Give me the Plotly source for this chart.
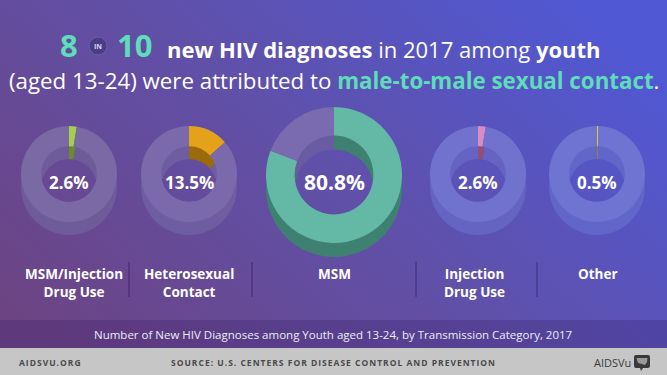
import base64
import plotly.graph_objects as go

# ---------------- data ----------------
categories = ["MSM/Injection<br>Drug Use", "Heterosexual<br>Contact", "MSM",
              "Injection<br>Drug Use", "Other"]
percentages = [2.6, 13.5, 80.8, 2.6, 0.5]
pct_labels = ["2.6%", "13.5%", "80.8%", "2.6%", "0.5%"]

# ---------------- style ----------------
W, H = 667, 375
top_colors = ["#a6cd4e", "#e4a11a", "#63b9a5", "#d98cc4", "#d8ca3c"]
wall_colors = ["#6a8a30", "#9b6a0c", "#3f8171", "#8f5078", "#908632"]
ring_top = ["#7b69a6", "#7a6aab", "#7a6bb0", "#7172cd", "#6f73d2"]
ring_wall = ["#6f5b9a", "#6e5da0", "#6a5ca3", "#6564c3", "#6266c8"]
centers_x = [69, 189, 334, 478, 597]
centers_y = [174, 174, 175, 174, 174]
radii = [48, 48, 68, 48, 48]
depth = [13, 13, 14, 13, 13]
label_x = [74, 189, 334, 474, 598]
sep_x = [129, 252, 416, 537]


def px(x):
    return x / W


def py(y):
    return 1 - y / H


def dom(cx, cy, r):
    return dict(x=[px(cx - r), px(cx + r)], y=[py(cy + r), py(cy - r)])


fig = go.Figure()

# shadow (extrusion) pies first
for i, p in enumerate(percentages):
    fig.add_trace(go.Pie(
        values=[p, 100 - p], sort=False, direction="clockwise", rotation=0,
        hole=0.58, textinfo="none", hoverinfo="skip", showlegend=False,
        marker=dict(colors=[wall_colors[i], ring_wall[i]], line=dict(width=0)),
        domain=dom(centers_x[i], centers_y[i] + depth[i], radii[i]),
    ))
# top faces
for i, p in enumerate(percentages):
    fig.add_trace(go.Pie(
        values=[p, 100 - p], labels=[categories[i].replace("<br>", " "), "Other categories"],
        sort=False, direction="clockwise", rotation=0,
        hole=0.58, textinfo="none", showlegend=False,
        marker=dict(colors=[top_colors[i], ring_top[i]], line=dict(width=0)),
        domain=dom(centers_x[i], centers_y[i], radii[i]),
    ))

ann = []
# percentages in holes
for i, t in enumerate(pct_labels):
    ann.append(dict(x=px(centers_x[i]), y=py(182), text=f"<b>{t}</b>",
                    font=dict(size=21 if i == 2 else 17, color="white", family="Open Sans")))
# category labels
for i, c in enumerate(categories):
    ann.append(dict(x=px(label_x[i]), y=py(263), yanchor="top", text=f"<b>{c}</b>",
                    font=dict(size=13.5, color="white", family="Open Sans")))

teal = "#5fdcb9"
# title line 1
ann.append(dict(x=px(69), y=py(44.5), text="<b>8</b>",
                font=dict(size=31, color=teal, family="Open Sans")))
ann.append(dict(x=px(98), y=py(46), text="<b>IN</b>", font=dict(size=7, color="#d8d4ee", family="Open Sans")))
ann.append(dict(x=px(134), y=py(44.5), text="<b>10</b>",
                font=dict(size=31, color=teal, family="Open Sans")))
ann.append(dict(x=px(165), y=py(49), xanchor="left",
                text="<b>new HIV diagnoses</b> in 2017 among <b>youth</b>",
                font=dict(size=22, color="white", family="Open Sans")))
# title line 2
ann.append(dict(x=px(334), y=py(80.5),
                text=f"(aged 13-24) were attributed to <b><span style='color:{teal}'>male-to-male sexual contact</span></b>.",
                font=dict(size=22.3, color="white", family="Open Sans")))
# caption
ann.append(dict(x=px(333), y=py(334),
                text="Number of New HIV Diagnoses among Youth aged 13-24, by Transmission Category, 2017",
                font=dict(size=11.5, color="#ecebf5", family="Open Sans")))
# footer
ann.append(dict(x=px(17), y=py(362), xanchor="left",
                text="<b><span style='letter-spacing:1px'>AIDSVU.ORG</span></b>",
                font=dict(size=8.5, color="#4a4a4a", family="Open Sans")))
ann.append(dict(x=px(333), y=py(362),
                text="<b><span style='letter-spacing:1px'>SOURCE: U.S. CENTERS FOR DISEASE CONTROL AND PREVENTION</span></b>",
                font=dict(size=8.5, color="#4a4a4a", family="Open Sans")))
ann.append(dict(x=px(633), y=py(362), xanchor="right", text="AIDSVu",
                font=dict(size=11, color="#3c3c3c", family="Open Sans")))
for a in ann:
    a.setdefault("xref", "paper")
    a.setdefault("yref", "paper")
    a.setdefault("showarrow", False)
    a.setdefault("xanchor", "center")
    a.setdefault("yanchor", "middle")

shapes = []
# IN circle
shapes.append(dict(type="circle", xref="paper", yref="paper",
                   x0=px(89), x1=px(107), y0=py(55), y1=py(37),
                   fillcolor="#4b3d85", line=dict(color="#6c5fa8", width=1)))
# separators
for x in sep_x:
    shapes.append(dict(type="line", xref="paper", yref="paper",
                       x0=px(x), x1=px(x), y0=py(262), y1=py(297),
                       line=dict(color="rgba(45,30,100,0.7)", width=1)))
# caption band
shapes.append(dict(type="rect", xref="paper", yref="paper", x0=0, x1=1, y0=py(348), y1=py(320),
                   fillcolor="rgba(45,20,90,0.22)", line=dict(width=0), layer="below"))
# footer
shapes.append(dict(type="rect", xref="paper", yref="paper", x0=0, x1=1, y0=0, y1=py(348),
                   fillcolor="#c6c6c6", line=dict(width=0)))
# logo icon
shapes.append(dict(type="path", xref="paper", yref="paper",
                   path=(f"M {px(636)},{py(355)} L {px(648)},{py(355)} Q {px(650)},{py(355)} {px(650)},{py(357)} "
                         f"L {px(650)},{py(366)} Q {px(650)},{py(368)} {px(648)},{py(368)} L {px(643)},{py(368)} "
                         f"L {px(641)},{py(371)} L {px(640)},{py(368)} L {px(636)},{py(368)} "
                         f"Q {px(634)},{py(368)} {px(634)},{py(366)} L {px(634)},{py(357)} "
                         f"Q {px(634)},{py(355)} {px(636)},{py(355)} Z"),
                   fillcolor="#3a3a3a", line=dict(width=0)))
shapes.append(dict(type="path", xref="paper", yref="paper",
                   path=(f"M {px(636.5)},{py(358)} L {px(647.5)},{py(358)} L {px(647)},{py(362)} "
                         f"L {px(645)},{py(365)} L {px(642)},{py(364)} L {px(638)},{py(363)} Z"),
                   fillcolor="#9a9a9a", line=dict(width=0)))

svg = ('<svg xmlns="http://www.w3.org/2000/svg" width="667" height="375" preserveAspectRatio="none">'
       '<defs><linearGradient id="g" x1="0" y1="0.8" x2="1" y2="0.2">'
       '<stop offset="0" stop-color="#6c4484"/><stop offset="0.5" stop-color="#6050a8"/>'
       '<stop offset="1" stop-color="#5058d4"/></linearGradient></defs>'
       '<rect width="667" height="375" fill="url(#g)"/></svg>')
src = "data:image/svg+xml;base64," + base64.b64encode(svg.encode()).decode()

fig.update_layout(
    width=W, height=H, margin=dict(l=0, r=0, t=0, b=0),
    paper_bgcolor="#5e50a8", plot_bgcolor="rgba(0,0,0,0)",
    images=[dict(source=src, xref="paper", yref="paper", x=0, y=1, sizex=1, sizey=1,
                 sizing="stretch", layer="below", xanchor="left", yanchor="top")],
    annotations=ann, shapes=shapes, showlegend=False,
)

fig.write_html("out.html", config={"displayModeBar": False},
               post_script="document.body.style.margin='0';")
